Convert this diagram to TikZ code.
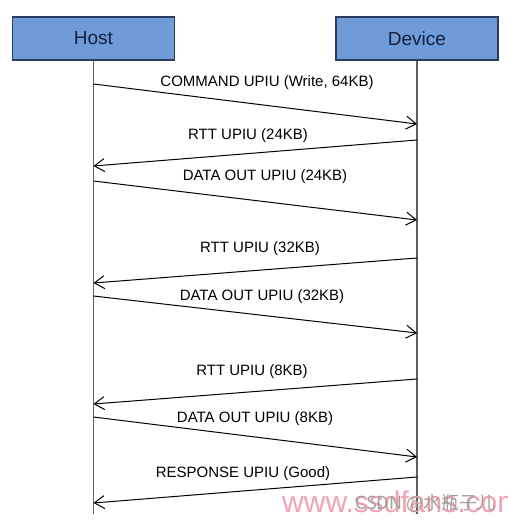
\documentclass[tikz,border=0pt]{standalone}
\usepackage{fontspec}
\setmainfont{Liberation Sans}
\newfontfamily\cjkfont{Noto Sans CJK SC}
\usetikzlibrary{positioning, arrows.meta}
\definecolor{boxfill}{RGB}{111, 155, 216}
\definecolor{boxdraw}{RGB}{44, 60, 92}
\definecolor{boxtext}{RGB}{20, 32, 60}
\definecolor{lifegray}{RGB}{95, 95, 95}
\definecolor{markpink}{RGB}{242, 160, 178}

\begin{document}
\begin{tikzpicture}[
    x=1pt, y=-1pt,
    >={Straight Barb[length=10pt, width=13pt]},
    actor/.style={
        draw=boxdraw,
        fill=boxfill,
        line width=1.3pt,
        minimum width=162pt,
        minimum height=43pt,
        inner sep=0pt,
        text=boxtext,
        font=\fontsize{19}{22}\selectfont,
    },
    lifeline/.style={draw=lifegray, line width=1.6pt},
    msg/.style={->, line width=1pt},
    msglabel/.style={inner sep=0pt, font=\fontsize{15}{18}\selectfont},
]
\useasboundingbox (0,0) rectangle (507,520);

% -- Lifeline x-coordinates
\def\hostx{93.5}
\def\devx{417}

% -- Actors
\node[actor] (host) at (\hostx, 38.5) {Host};
\node[actor] (device) at (\devx, 38.5) {Device};

% -- Lifelines
\coordinate (hostend) at (\hostx, 514);
\coordinate (devend) at (\devx, 514);
\draw[lifeline] (host.south) -- (hostend);
\draw[lifeline] (device.south) -- (devend);

% -- Message points on the lifelines
\coordinate (h1) at (\hostx, 84);   \coordinate (d1) at (\devx, 124);
\coordinate (d2) at (\devx, 140);   \coordinate (h2) at (\hostx, 166);
\coordinate (h3) at (\hostx, 181);  \coordinate (d3) at (\devx, 220);
\coordinate (d4) at (\devx, 258);   \coordinate (h4) at (\hostx, 283);
\coordinate (h5) at (\hostx, 296);  \coordinate (d5) at (\devx, 333);
\coordinate (d6) at (\devx, 379);   \coordinate (h6) at (\hostx, 404);
\coordinate (h7) at (\hostx, 417);  \coordinate (d7) at (\devx, 457);
\coordinate (d8) at (\devx, 477);   \coordinate (h8) at (\hostx, 503);

% ===== Messages =====

% command: host -> device
\draw[msg] (h1) -- (d1);
\node[msglabel] (cmd) at (267, 83) {COMMAND UPIU (Write, 64KB)};

% first transfer
\draw[msg] (d2) -- (h2);
\node[msglabel] (rtta) at (248, 136) {RTT UPIU (24KB)};
\draw[msg] (h3) -- (d3);
\node[msglabel] (outa) at (265, 177) {DATA OUT UPIU (24KB)};

% second transfer
\draw[msg] (d4) -- (h4);
\node[msglabel] (rttb) at (260, 249) {RTT UPIU (32KB)};
\draw[msg] (h5) -- (d5);
\node[msglabel] (outb) at (262, 297) {DATA OUT UPIU (32KB)};

% third transfer
\draw[msg] (d6) -- (h6);
\node[msglabel] (rttc) at (252, 372) {RTT UPIU (8KB)};
\draw[msg] (h7) -- (d7);
\node[msglabel] (outc) at (255, 419) {DATA OUT UPIU (8KB)};

% response: device -> host
\draw[msg] (d8) -- (h8);
\node[msglabel] (resp) at (243, 474) {RESPONSE UPIU (Good)};

% -- Watermark
\node[anchor=base west, inner sep=0pt, text=markpink, font=\fontsize{30}{32}\selectfont] (wmsite) at (282, 512) {www.ssdfans.com};
\node[anchor=base west, inner sep=0pt, text=gray!75, font=\cjkfont\fontsize{18}{20}\selectfont] (wmcsdn) at (355, 509) {CSDN @水瓶子儿};

\end{tikzpicture}
\end{document}
